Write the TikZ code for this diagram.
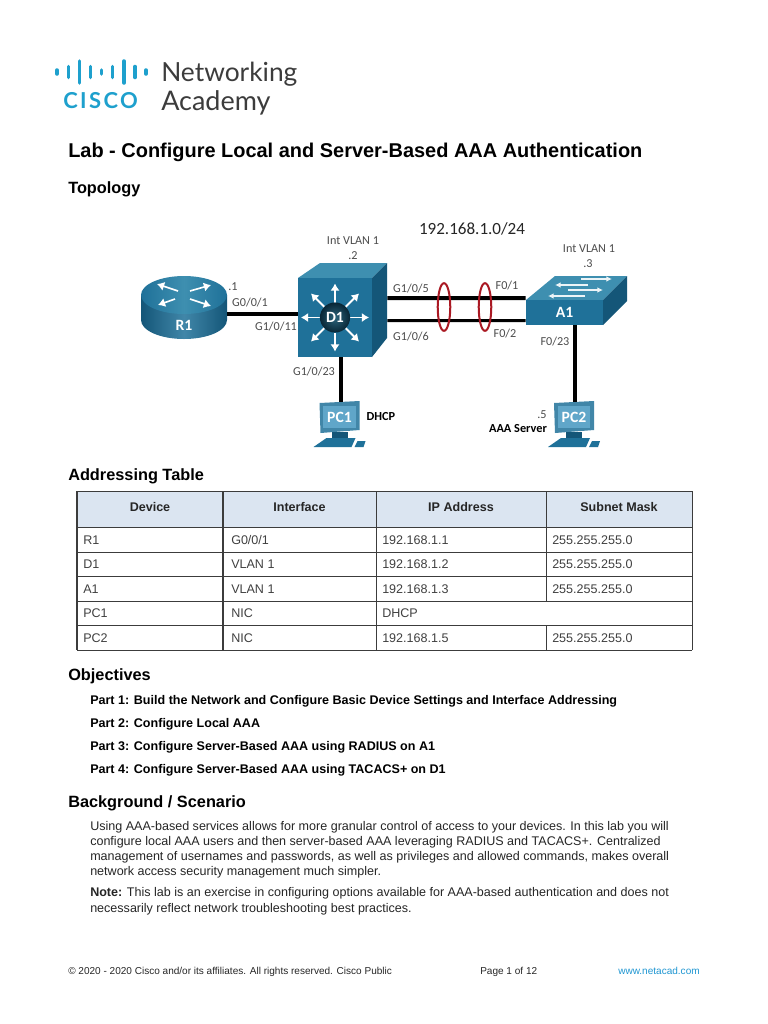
\documentclass[tikz,border=0pt]{standalone}
\usepackage{fontspec}
\setmainfont{Liberation Sans}
\newfontfamily\calibrifont{Carlito}
\newfontfamily\logofont{Lato}
\newfontfamily\logowide[LetterSpace=11]{Lato}
\usetikzlibrary{positioning, arrows.meta, calc, shapes.geometric}
\definecolor{ciscoface}{RGB}{31, 113, 153}
\definecolor{ciscotop}{RGB}{62, 143, 176}
\definecolor{ciscoside}{RGB}{20, 86, 120}
\definecolor{ciscoscreen}{RGB}{96, 166, 201}
\definecolor{logoblue}{RGB}{30, 160, 205}
\definecolor{logogray}{RGB}{60, 60, 60}
\definecolor{ringred}{RGB}{170, 25, 35}
\definecolor{headfill}{RGB}{219, 229, 241}
\definecolor{rulegray}{RGB}{60, 60, 60}
\definecolor{weblink}{RGB}{30, 150, 210}
\begin{document}
\begin{tikzpicture}[
      x=0.797pt, y=-0.797pt,
      txt/.style={anchor=base west, inner sep=0pt, font=\fontsize{10}{12}\selectfont, text=black!85},
      title/.style={txt, font=\fontsize{15.9}{18}\bfseries\selectfont, text=black},
      head/.style={txt, font=\fontsize{13}{15}\bfseries\selectfont, text=black},
      part/.style={txt, font=\fontsize{10}{12}\bfseries\selectfont, text=black},
      foot/.style={txt, font=\fontsize{8}{10}\selectfont, text=black!85},
      cell/.style={txt, font=\fontsize{10}{12}\selectfont, text=black!75},
      hcell/.style={txt, anchor=base, font=\fontsize{10}{12}\bfseries\selectfont, text=black!85},
      lab/.style={anchor=base, inner sep=0pt, font=\calibrifont\fontsize{9.7}{11}\selectfont, text=black!70},
      tag/.style={lab, font=\calibrifont\fontsize{9.8}{11}\bfseries\selectfont, text=black},
      devname/.style={anchor=center, inner sep=0pt, text=white, font=\calibrifont\fontsize{12.5}{14}\bfseries\selectfont},
      link/.style={line width=2.6pt, black},
      wharr/.style={-{Latex[length=2mm,width=2.6mm]}, line width=1.5pt, white},
      flatarr/.style={-{Latex[length=1.6mm,width=1.6mm]}, line width=1.2pt, white!90!ciscotop},
      ring/.style={draw=ringred, line width=1.6pt, ellipse, inner sep=0pt, minimum width=10pt, minimum height=38pt}
    ]
    \useasboundingbox (0,0) rectangle (768,1024);
    \fill[white] (0,0) rectangle (768,1024);

    % logo
    \foreach \xpos/\barh in {57/4, 68.5/11, 79.5/22, 90.5/11, 101.5/4, 112.5/11, 124/22, 135/11, 146/4}
      \draw[logoblue, line width=2.8pt, line cap=round] (\xpos,72-\barh/2) -- (\xpos,72+\barh/2);
    \node[anchor=base west, inner sep=0pt, text=logoblue, font=\logowide\fontsize{17.5}{20}\bfseries\selectfont] (cisco) at (63,108) {CISCO};
    \node[anchor=base west, inner sep=0pt, text=logogray, font=\logofont\fontsize{21}{24}\selectfont] (netw) at (161,81) {Networking};
    \node[anchor=base west, inner sep=0pt, text=logogray, font=\logofont\fontsize{21.5}{24}\selectfont] (acad) at (161,110) {Academy};

    \node[title] (labtitle) at (68,157) {Lab - Configure Local and Server-Based AAA Authentication};
    \node[head] (topo) at (68,193) {Topology};

    % R1
    \node[minimum width=68.5pt, minimum height=30pt, inner sep=0pt] (R1) at (184,314) {};
    \shade[left color=ciscoside, right color=ciscoside, middle color=ciscoface!85!white] (141,295) -- (141,320) arc[start angle=180, end angle=0, x radius=43, y radius=19] -- (227,295) -- cycle;
    \shade[left color=ciscoface, right color=ciscoface, middle color=ciscotop] (184,295) ellipse[x radius=43, y radius=19];
    \draw[wharr, line width=1.3pt] (178,291) -- (157,284);
    \draw[wharr, line width=1.3pt] (190,291) -- (211,285);
    \draw[wharr, line width=1.3pt] (175,299) -- (158,305);
    \draw[wharr, line width=1.3pt] (190,299) -- (211,306);
    \node[devname] (R1name) at (184,325) {R1};

    % D1
    \fill[ciscotop] (298,278) -- (320,263) -- (387,263) -- (372,278) -- cycle;
    \fill[ciscoside] (372,278) -- (387,263) -- (387,338) -- (372,357) -- cycle;
    \node[fill=ciscoface, minimum width=59pt, minimum height=63pt, inner sep=0pt] (D1) at (335,317.5) {};
    \foreach \ang in {0,45,...,315}
      \draw[wharr] ($(D1.center)+(\ang:15)$) -- ($(D1.center)+(\ang:34)$);
    \node[circle, shading=radial, inner color=ciscotop!70!black, outer color=ciscoside!45!black, minimum size=24pt, inner sep=0pt, devname] (D1ball) at (D1.center) {D1};

    % A1
    \fill[ciscotop] (526,300) -- (555,276) -- (627,276) -- (603,300) -- cycle;
    \fill[ciscoside] (603,300) -- (627,276) -- (627,301) -- (603,325) -- cycle;
    \node[fill=ciscoface, minimum width=61.4pt, minimum height=20pt, devname] (A1) at (564.5,312.5) {A1};
    \draw[flatarr] (581,279) -- (612,279);
    \draw[flatarr] (588,285) -- (555,285);
    \draw[flatarr] (568,290) -- (603,290);
    \draw[flatarr] (585,296) -- (548,296);

    % PCs
    \foreach \pcname/\xpos in {PC1/339.5, PC2/574} {
      \fill[ciscoface!85!white] (\xpos-20,403) -- (\xpos+20,401) -- (\xpos+20,430) -- (\xpos-19,433) -- cycle;
      \fill[ciscoside] (\xpos-8,432) rectangle (\xpos+8,438);
      \fill[ciscoface] (\xpos-13,438) -- (\xpos+16,438) -- (\xpos+12,447) -- (\xpos-26,447) -- cycle;
      \fill[ciscoface] (\xpos+18,441) -- (\xpos+26,441) -- (\xpos+24,447) -- (\xpos+15,447) -- cycle;
      \node[fill=ciscoscreen, minimum width=26pt, minimum height=17pt, devname] (\pcname) at (\xpos,417) {\pcname};
    }

    % links
    \draw[link] (R1.east) -- (R1.east -| D1.west);
    \draw[link] (341,357) -- (341,402);
    \draw[link, line width=3.2pt] ([xshift=12pt,yshift=15.5pt]D1.east) -- ([yshift=11.5pt]A1.west);
    \draw[link, line width=2.4pt] ([xshift=12pt,yshift=-2.5pt]D1.east) -- ([yshift=-6.5pt]A1.west);
    \draw[link] (575,325) -- (575,402);
    \node[ring] (ringa) at (444,307) {};
    \node[ring] (ringb) at (485,307) {};

    % labels
    \node[lab, font=\calibrifont\fontsize{13.6}{16}\selectfont, text=black!85] (subnet) at (472,234) {192.168.1.0/24};
    \node[lab] (vlan1) at (353,244) {Int VLAN 1};
    \node[lab] (dot2) at (353,259) {.2};
    \node[lab] (vlan2) at (589,252) {Int VLAN 1};
    \node[lab] (dot3) at (588,267) {.3};
    \node[lab] (dot1) at (233,290) {.1};
    \node[lab] (g001) at (250,306) {G0/0/1};
    \node[lab] (g1011) at (276,330) {G1/0/11};
    \node[lab] (g1023) at (314,375) {G1/0/23};
    \node[lab] (g105) at (411,292) {G1/0/5};
    \node[lab] (g106) at (411,340) {G1/0/6};
    \node[lab] (f01) at (507,289) {F0/1};
    \node[lab] (f02) at (505,337) {F0/2};
    \node[lab] (f023) at (555,345) {F0/23};
    \node[tag] (dhcp) at (381,420) {DHCP};
    \node[lab] (dot5) at (542,418) {.5};
    \node[tag] (aaasrv) at (518,432) {AAA Server};

    % table
    \node[head] (addr) at (68,480) {Addressing Table};
    \fill[headfill] (77,491) rectangle (692,527);
    \foreach \ypos in {491,527,552,576,601,625,650}
      \draw[rulegray, line width=0.8pt] (77,\ypos) -- (692,\ypos);
    \foreach \xpos in {77,223,376,692}
      \draw[rulegray, line width=0.8pt] (\xpos,491) -- (\xpos,650);
    \draw[rulegray, line width=0.8pt] (546,491) -- (546,601);
    \draw[rulegray, line width=0.8pt] (546,625) -- (546,650);
    \foreach \cname/\xpos/\ctext in {hdev/150/Device, hint/299.5/Interface, hip/461/IP Address, hmask/619/Subnet Mask}
      \node[hcell] (\cname) at (\xpos,511) {\ctext};
    \foreach \rname/\ypos/\ca/\cb/\cc/\cd in {
        rr/544/R1/G0\slash 0\slash 1/192.168.1.1/255.255.255.0,
        rd/568/D1/VLAN 1/192.168.1.2/255.255.255.0,
        ra/593/A1/VLAN 1/192.168.1.3/255.255.255.0,
        rp/617/PC1/NIC/DHCP/{},
        rq/642/PC2/NIC/192.168.1.5/255.255.255.0} {
      \node[cell] (\rname a) at (83,\ypos) {\ca};
      \node[cell] (\rname b) at (231,\ypos) {\cb};
      \node[cell] (\rname c) at (382,\ypos) {\cc};
      \node[cell] (\rname d) at (552,\ypos) {\cd};
    }

    % objectives
    \node[head] (obj) at (68,680) {Objectives};
    \node[part] (parta) at (90,704) {Part 1: Build the Network and Configure Basic Device Settings and Interface Addressing};
    \node[part] (partb) at (90,727) {Part 2: Configure Local AAA};
    \node[part] (partc) at (90,750) {Part 3: Configure Server-Based AAA using RADIUS on A1};
    \node[part] (partd) at (90,773) {Part 4: Configure Server-Based AAA using TACACS+ on D1};

    % background
    \node[head] (bg) at (68,807) {Background / Scenario};
    \node[txt] (linea) at (90,830) {Using AAA-based services allows for more granular control of access to your devices. In this lab you will};
    \node[txt] (lineb) at (90,845) {configure local AAA users and then server-based AAA leveraging RADIUS and TACACS+. Centralized};
    \node[txt] (linec) at (90,860) {management of usernames and passwords, as well as privileges and allowed commands, makes overall};
    \node[txt] (lined) at (90,875) {network access security management much simpler.};
    \node[txt] (linee) at (90,896) {\textbf{Note:} This lab is an exercise in configuring options available for AAA-based authentication and does not};
    \node[txt] (linef) at (90,912) {necessarily reflect network troubleshooting best practices.};

    % footer
    \node[foot] (copyr) at (68,974) {© 2020 - 2020 Cisco and/or its affiliates. All rights reserved. Cisco Public};
    \node[foot] (pageno) at (480,974) {Page 1 of 12};
    \node[foot, text=weblink] (web) at (618,974) {www.netacad.com};
  \end{tikzpicture}
\end{document}
